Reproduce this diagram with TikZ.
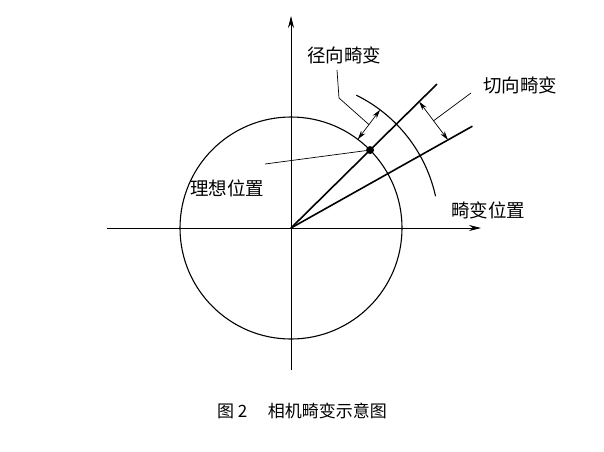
\documentclass[tikz,border=0pt]{standalone}
\usepackage{fontspec}
\newfontfamily\cjk{Noto Sans CJK SC}
\usetikzlibrary{arrows.meta,calc}
\begin{document}
\begin{tikzpicture}[x=1pt,y=-1pt,
  lbl/.style={font=\cjk\fontsize{18.5}{20}\selectfont,inner sep=0pt},
  thick line/.style={line width=1.6pt},
  thin line/.style={line width=0.7pt},
  dim/.style={line width=0.7pt,{Stealth[length=9pt,width=5pt]}-{Stealth[length=9pt,width=5pt]}}]
\useasboundingbox (0,0) rectangle (604,451);
\coordinate (O) at (291,228);
\coordinate (xl) at (107,228);
\coordinate (xr) at (481,228);
\coordinate (yb) at (291,370);
\coordinate (yt) at (291,16);
\draw[thin line,-{Stealth[length=12pt,width=6pt]}] (xl) -- (xr);
\draw[thin line,-{Stealth[length=12pt,width=6pt]}] (yb) -- (yt);
\draw[line width=1.1pt] (O) circle[radius=111];
\coordinate (L1) at ($(O)+(-44.6:205)$);
\coordinate (L2) at ($(O)+(-29.3:208)$);
\draw[thick line] (O) -- (L1);
\draw[thick line] (O) -- (L2);
\draw[line width=1.1pt] ($(O)+(-63.8:148)$) arc[start angle=-63.8,end angle=-12.4,radius=148];
\node[circle,fill,inner sep=0pt,minimum size=8pt] (dot) at ($(O)+(-44.6:111)$) {};
\coordinate (r1) at ($(O)+(-53:111)$);
\coordinate (r2) at ($(O)+(-53:148)$);
\draw[dim] (r1) -- (r2);
\coordinate (t1) at ($(O)+(-44.6:180)$);
\coordinate (t2) at ($(O)+(-29.3:180)$);
\draw[dim] (t1) -- (t2);
\node[lbl] (jx) at (344,55) {径向畸变};
\node[lbl] (qx) at (520,85) {切向畸变};
\node[lbl] (lx) at (227,188) {理想位置};
\node[lbl] (jb) at (488,210) {畸变位置};
\coordinate (j1) at (337,70);
\coordinate (j2) at (339,98);
\draw[thin line] (j1) -- (j2) -- ($(r1)!0.5!(r2)$);
\coordinate (q1) at (471,93);
\draw[thin line] (q1) -- ($(t1)!0.5!(t2)$);
\coordinate (l1) at (265,164);
\draw[thin line] (l1) -- (dot);
\node[font=\cjk\fontsize{17}{20}\selectfont,inner sep=0pt] (cap) at (302,411) {图 2\hspace{1.2em}相机畸变示意图};
\end{tikzpicture}
\end{document}
